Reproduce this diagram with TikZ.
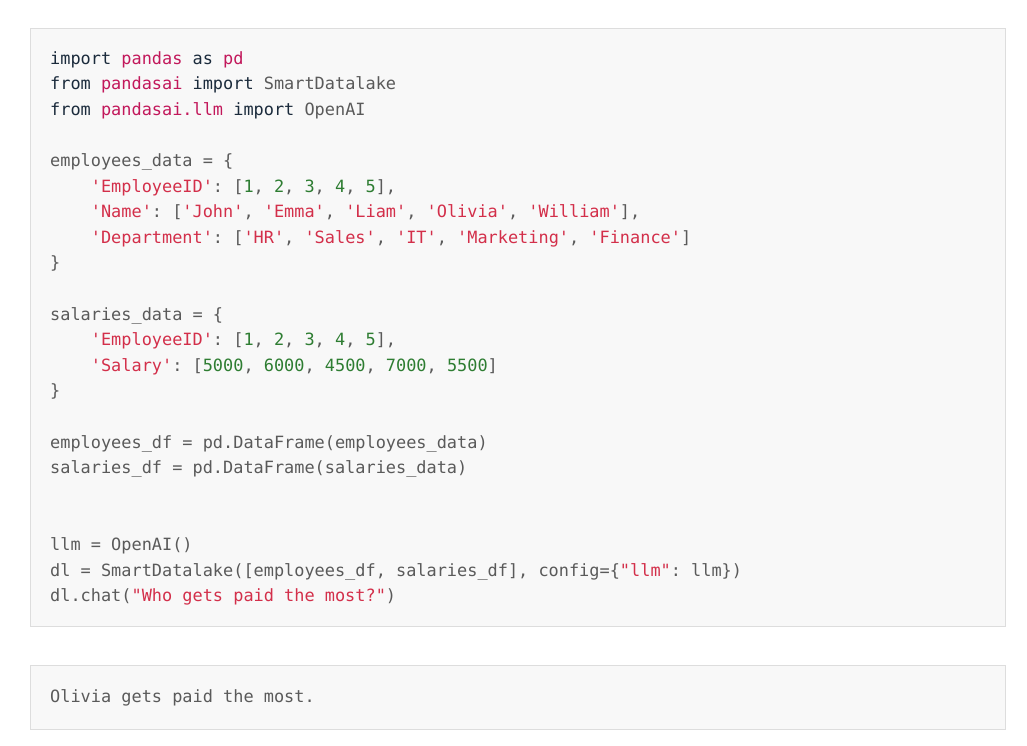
\documentclass[tikz,border=0pt]{standalone}
\usepackage{fontspec}
\setmonofont{DejaVu Sans Mono}
\definecolor{kw}{HTML}{1B2B3C}
\definecolor{md}{HTML}{C2185B}
\definecolor{tx}{HTML}{5A5A5A}
\definecolor{st}{HTML}{D32F4A}
\definecolor{nm}{HTML}{2E7D32}
\definecolor{bg}{HTML}{F8F8F8}
\definecolor{bd}{HTML}{DDDDDD}
\newcommand{\K}[1]{\textcolor{kw}{#1}}
\newcommand{\M}[1]{\textcolor{md}{#1}}
\newcommand{\Sg}[1]{\textcolor{st}{#1}}
\newcommand{\N}[1]{\textcolor{nm}{#1}}
\newcommand{\U}{\char"5F\relax}
\begin{document}
\begin{tikzpicture}[x=1pt,y=-1pt,
  codeline/.style={anchor=base west,inner sep=0pt,text=tx,font=\fontsize{16.9}{20}\ttfamily},
  box/.style={fill=bg,draw=bd,line width=1pt}]
\useasboundingbox (0,0) rectangle (1027,745);
\fill[white] (0,0) rectangle (1027,745);
\node[box,minimum width=975pt,minimum height=598pt,anchor=north west,inner sep=0pt] (b1) at (30,28) {};
\node[box,minimum width=975pt,minimum height=64pt,anchor=north west,inner sep=0pt] (b2) at (30,665) {};
\newcommand{\Ln}[3]{\node[codeline] (#1) at (50,{58+25.6*#2+6}) {\strut #3};}
\Ln{l0}{0}{\K{import} \M{pandas} \K{as} \M{pd}}
\Ln{l1}{1}{\K{from} \M{pandasai} \K{import} SmartDatalake}
\Ln{l2}{2}{\K{from} \M{pandasai.llm} \K{import} OpenAI}
\Ln{l4}{4}{employees\U data = \{}
\Ln{l5}{5}{\ \ \ \ \Sg{'EmployeeID'}: [\N{1}, \N{2}, \N{3}, \N{4}, \N{5}],}
\Ln{l6}{6}{\ \ \ \ \Sg{'Name'}: [\Sg{'John'}, \Sg{'Emma'}, \Sg{'Liam'}, \Sg{'Olivia'}, \Sg{'William'}],}
\Ln{l7}{7}{\ \ \ \ \Sg{'Department'}: [\Sg{'HR'}, \Sg{'Sales'}, \Sg{'IT'}, \Sg{'Marketing'}, \Sg{'Finance'}]}
\Ln{l8}{8}{\}}
\Ln{l10}{10}{salaries\U data = \{}
\Ln{l11}{11}{\ \ \ \ \Sg{'EmployeeID'}: [\N{1}, \N{2}, \N{3}, \N{4}, \N{5}],}
\Ln{l12}{12}{\ \ \ \ \Sg{'Salary'}: [\N{5000}, \N{6000}, \N{4500}, \N{7000}, \N{5500}]}
\Ln{l13}{13}{\}}
\Ln{l15}{15}{employees\U df = pd.DataFrame(employees\U data)}
\Ln{l16}{16}{salaries\U df = pd.DataFrame(salaries\U data)}
\Ln{l19}{19}{llm = OpenAI()}
\Ln{l20}{20}{dl = SmartDatalake([employees\U df, salaries\U df], config=\{\Sg{"llm"}: llm\})}
\Ln{l21}{21}{dl.chat(\Sg{"Who gets paid the most?"})}
\node[codeline] (out) at (50,702) {\strut Olivia gets paid the most.};
\end{tikzpicture}
\end{document}
